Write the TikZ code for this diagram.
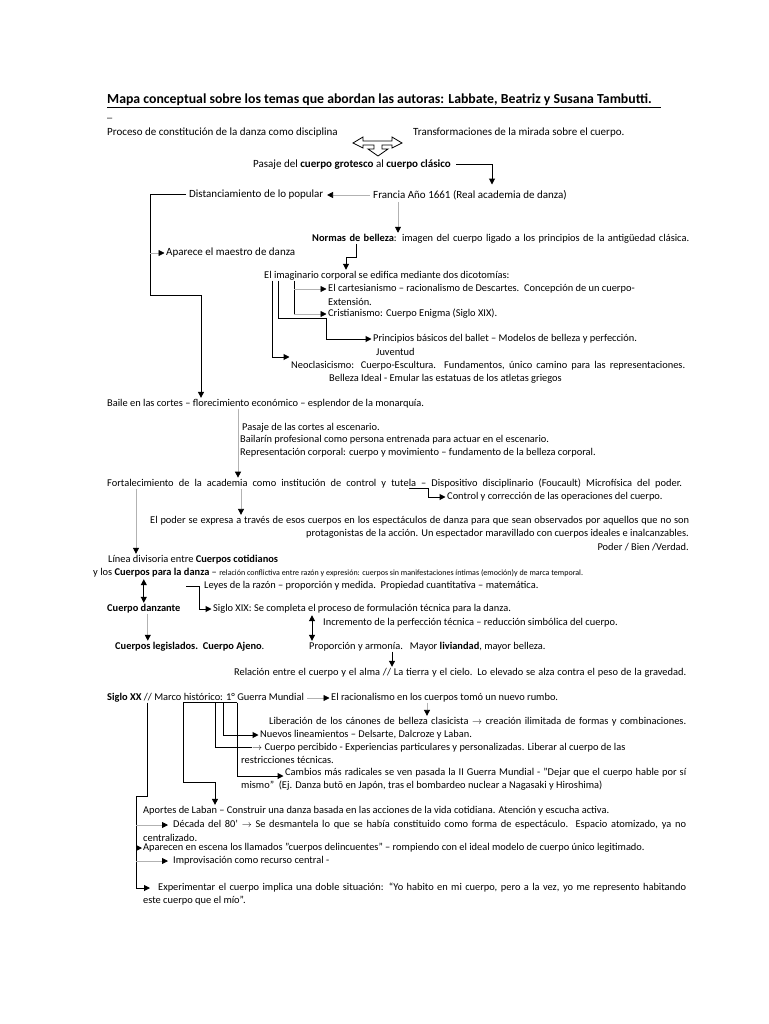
\documentclass[tikz,border=0pt]{standalone}
\usepackage{fontspec}
\setmainfont{Carlito}
\usepackage{amsmath}
\usetikzlibrary{arrows.meta}
\newcommand{\jline}[2]{\makebox[#1][s]{#2}}

\begin{document}
\begin{tikzpicture}[x=1pt,y=-1pt]
\tikzstyle{every node}+=[inner sep=0pt]
\tikzstyle{txt}=[anchor=west,font=\fontsize{10.4}{12}\selectfont]
\tikzstyle{big}=[anchor=west,font=\fontsize{11}{13}\selectfont]
\tikzstyle{bline}=[draw=black,line width=1pt,shorten >=1.5pt,-{Triangle[length=6pt,width=6pt]}]
\tikzstyle{gline}=[draw=black!30,line width=0.8pt,shorten >=1.5pt,-{Triangle[length=6pt,width=6pt,black]}]
\tikzstyle{dline}=[draw=black,line width=1pt,shorten >=1.5pt,shorten <=1.5pt,{Triangle[length=6pt,width=6pt]}-{Triangle[length=6pt,width=6pt]}]
\useasboundingbox (0,0) rectangle (768,1024);
\node [txt,font=\fontsize{13.8}{16}\selectfont\bfseries] (title) at (107,101) {\underline{Mapa conceptual sobre los temas que abordan las autoras: Labbate, Beatriz y Susana Tambutti.\ \ \ }};
\node [txt] (dash) at (107,118) {\_};
\node [big] (proc) at (107,133) {Proceso de constitución de la danza como disciplina};
\node [big] (trans) at (413,133) {Transformaciones de la mirada sobre el cuerpo.};
\draw [black,line width=0.8pt] (353,143) -- (363,137) -- (363,141) -- (392,141) -- (392,137) -- (402,143) -- (392,148) -- (392,145) -- (382,145) -- (382,149) -- (388,149) -- (378,156) -- (368,149) -- (374,149) -- (374,145) -- (363,145) -- (363,148) -- cycle;
\node [big] (pasaje) at (253,165) {Pasaje del \textbf{cuerpo grotesco} al \textbf{cuerpo clásico}};
\node [big] (fran) at (373,195) {Francia Año 1661 (Real academia de danza)};
\node [big] (dist) at (189,195) {Distanciamiento de lo popular};
\node [big] (maes) at (166,253) {Aparece el maestro de danza};
\node [txt] (normas) at (312,239) {\jline{377pt}{\textbf{Normas de belleza}: imagen del cuerpo ligado a los principios de la antigüedad clásica.}};
\node [txt] (imag) at (264,276) {El imaginario corporal se edifica mediante dos dicotomías:};
\node [txt] (cart) at (328,289) {El cartesianismo – racionalismo de Descartes.\ \ Concepción de un cuerpo-};
\node [txt] (ext) at (328,302) {Extensión.};
\node [txt] (crist) at (328,314) {Cristianismo: Cuerpo Enigma (Siglo XIX).};
\node [txt] (princ) at (373,339) {Principios básicos del ballet – Modelos de belleza y perfección.};
\node [txt] (juv) at (376,352) {Juventud};
\node [txt] (neo) at (291,366) {\jline{394pt}{Neoclasicismo: Cuerpo-Escultura.\ \ Fundamentos, único camino para las representaciones.}};
\node [txt] (bel) at (329,379) {Belleza Ideal - Emular las estatuas de los atletas griegos};
\node [txt] (baile) at (107,404) {Baile en las cortes – florecimiento económico – esplendor de la monarquía.};
\node [txt] (pcort) at (242,428) {Pasaje de las cortes al escenario.};
\node [txt] (bprof) at (240,440) {Bailarín profesional como persona entrenada para actuar en el escenario.};
\node [txt] (rcorp) at (240,453) {Representación corporal: cuerpo y movimiento – fundamento de la belleza corporal.};
\node [txt] (fort) at (107,484) {\jline{575pt}{Fortalecimiento de la academia como institución de control y tutela – Dispositivo disciplinario (Foucault) Microfísica del poder.}};
\node [txt] (ctrl) at (447,497) {Control y corrección de las operaciones del cuerpo.};
\node [txt] (poder1) at (150,521) {\jline{539pt}{El poder se expresa a través de esos cuerpos en los espectáculos de danza para que sean observados por aquellos que no son}};
\node [txt,anchor=east] (poder2) at (689,534) {protagonistas de la acción. Un espectador maravillado con cuerpos ideales e inalcanzables.};
\node [txt,anchor=east] (poder3) at (689,547) {Poder / Bien /Verdad.};
\node [txt] (linea) at (108,560) {Línea divisoria entre \textbf{Cuerpos cotidianos}};
\node [txt] (ylos) at (93,573) {y los \textbf{Cuerpos para la danza} – {\fontsize{8}{9}\selectfont relación conflictiva entre razón y expresión: cuerpos sin manifestaciones íntimas (emoción)y de marca temporal.}};
\node [txt] (leyes) at (204,586) {Leyes de la razón – proporción y medida.\ \ Propiedad cuantitativa – matemática.};
\node [txt,font=\fontsize{10.4}{12}\selectfont\bfseries] (danz) at (107,609) {Cuerpo danzante};
\node [txt] (sxix) at (213,609) {Siglo XIX: Se completa el proceso de formulación técnica para la danza.};
\node [txt] (incr) at (323,623) {Incremento de la perfección técnica – reducción simbólica del cuerpo.};
\node [txt] (legis) at (115,647) {\textbf{Cuerpos legislados.\ \ Cuerpo Ajeno}.};
\node [txt] (prop) at (309,647) {Proporción y armonía.\ \ \ Mayor \textbf{liviandad}, mayor belleza.};
\node [txt] (relac) at (234,673) {\jline{452pt}{Relación entre el cuerpo y el alma // La tierra y el cielo. Lo elevado se alza contra el peso de la gravedad.}};
\node [txt] (sxx) at (107,698) {\textbf{Siglo XX} // Marco histórico: 1° Guerra Mundial};
\node [txt] (racio) at (331,698) {El racionalismo en los cuerpos tomó un nuevo rumbo.};
\node [txt] (liber) at (269,722) {\jline{417pt}{Liberación de los cánones de belleza clasicista $\rightarrow$ creación ilimitada de formas y combinaciones.}};
\node [txt] (nuev) at (260,735) {Nuevos lineamientos – Delsarte, Dalcroze y Laban.};
\node [txt] (perc) at (252,748) {$\rightarrow$ Cuerpo percibido - Experiencias particulares y personalizadas. Liberar al cuerpo de las};
\node [txt] (restr) at (241,760) {restricciones técnicas.};
\node [txt] (camb) at (285,773) {\jline{401pt}{Cambios más radicales se ven pasada la II Guerra Mundial - "Dejar que el cuerpo hable por sí}};
\node [txt] (mismo) at (241,786) {mismo"\ \ (Ej. Danza butō en Japón, tras el bombardeo nuclear a Nagasaki y Hiroshima)};
\node [txt] (aport) at (143,811) {Aportes de Laban – Construir una danza basada en las acciones de la vida cotidiana. Atención y escucha activa.};
\node [txt] (decada) at (173,825) {\jline{513pt}{Década del 80' $\rightarrow$ Se desmantela lo que se había constituido como forma de espectáculo.\ \ Espacio atomizado, ya no}};
\node [txt] (centr) at (143,838) {centralizado.};
\node [txt] (apar) at (143,848) {Aparecen en escena los llamados "cuerpos delincuentes" – rompiendo con el ideal modelo de cuerpo único legitimado.};
\node [txt] (impr) at (173,861) {Improvisación como recurso central -};
\node [txt] (exper) at (158,888) {\jline{528pt}{Experimentar el cuerpo implica una doble situación: “Yo habito en mi cuerpo, pero a la vez, yo me represento habitando}};
\node [txt] (este) at (143,901) {este cuerpo que el mío”.};
\draw [bline] ([xshift=5pt]pasaje.east) -| ([xshift=119pt,yshift=4pt]fran.north west);
\draw [gline] ([xshift=-3pt]fran.west) -- ([xshift=2pt]dist.east);
\coordinate (dl) at (150,295);
\coordinate (dr) at (201,295);
\draw [bline] ([xshift=-3pt]dist.west) -| (dl) -- (dr) -- (dr |- baile.north);
\draw [gline] (dl |- maes.west) -- (maes.west);
\coordinate (fr1) at ([xshift=25pt]fran.south west);
\draw [gline] ([yshift=-2pt]fr1) -- (fr1 |- normas.north);
\coordinate (nb) at ([xshift=44pt]normas.south west);
\coordinate (ib) at ([xshift=82pt]imag.north west);
\draw [bline] (nb) -- ++(0,14) -| (ib);
\coordinate (ia) at ([xshift=8pt]imag.south west);
\coordinate (ibb) at ([xshift=14pt]imag.south west);
\coordinate (ic) at ([xshift=30pt]imag.south west);
\coordinate (bk) at (326,318);
\draw [bline] (ia) |- ([yshift=9pt]neo.west);
\draw [bline] (ibb) |- (bk) |- (princ.west);
\draw [black,line width=1pt] (ic) -- (ic |- crist.west);
\draw [gline] (ic |- crist.west) -- (crist.west);
\draw [gline] (ic |- cart.west) -- (cart.west);
\coordinate (b1) at ([xshift=131pt]baile.south west);
\draw [gline] (b1) -- (b1 |- fort.north);
\coordinate (f1) at ([xshift=302pt]fort.south west);
\draw [bline] (f1) -- ++(19,0) |- (ctrl.west);
\coordinate (f2) at ([xshift=134pt]fort.south west);
\draw [gline] (f2) -- (f2 |- poder1.north);
\coordinate (f3) at ([xshift=29pt]fort.south west);
\draw [gline] (f3) -- (f3 |- linea.north);
\draw [dline] (danz.north |- ylos.south) -- (danz.north);
\draw [gline] ([xshift=4pt]danz.south) -- ([xshift=4pt]danz.south |- legis.north);
\coordinate (e1) at (186,586);
\draw [bline] (e1) -- ([xshift=-5pt]leyes.west) |- (sxix.west);
\coordinate (p1) at ([xshift=3pt]prop.north west);
\draw [dline] (p1 |- sxix.south) -- (p1);
\coordinate (p2) at ([xshift=83pt]prop.south west);
\draw [bline] (p2) -- (p2 |- relac.north);
\draw [gline] ([xshift=3pt]sxx.east) -- (racio.west);
\coordinate (r1) at ([xshift=96pt]racio.south west);
\draw [gline] (r1) -- (r1 |- liber.north);
\coordinate (s0) at ([xshift=40pt]sxx.south west);
\coordinate (s1) at ([xshift=76pt]sxx.south west);
\coordinate (s2) at ([xshift=108pt]sxx.south west);
\coordinate (s3) at ([xshift=116pt]sxx.south west);
\coordinate (s4) at ([xshift=130pt]sxx.south west);
\coordinate (k2) at (215,782);
\draw [bline] (s4) -- (s1) |- (k2) -- (k2 |- aport.north);
\draw [black,line width=1pt] (s2) |- ([yshift=1pt]perc.west);
\draw [bline] (s3) |- (nuev.west);
\draw [bline] (s4) |- ([yshift=-3pt]camb.west);
\coordinate (k3) at (136,796);
\draw [bline,shorten >=8pt] (s0) |- (k3) |- (exper.west);
\draw [gline,shorten >=5pt] (k3 |- decada.west) -- (decada.west);
\draw [bline,shorten >=1pt] (k3 |- apar.west) -- (apar.west);
\draw [gline,shorten >=5pt] (k3 |- impr.west) -- (impr.west);
\end{tikzpicture}
\end{document}
